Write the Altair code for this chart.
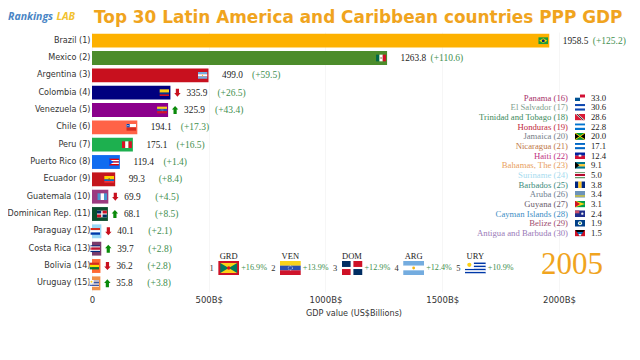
import base64
import altair as alt
import pandas as pd

SERIF = "Liberation Serif"
SANS = "DejaVu Sans"

names = ["Brazil", "Mexico", "Argentina", "Colombia", "Venezuela", "Chile", "Peru", "Puerto Rico",
         "Ecuador", "Guatemala", "Dominican Rep.", "Paraguay", "Costa Rica", "Bolivia", "Uruguay"]
values = [1958.5, 1263.8, 499.0, 335.9, 325.9, 194.1, 175.1, 119.4, 99.3, 69.9, 68.1, 40.1, 39.7, 36.2, 35.8]
deltas = [125.2, 110.6, 59.5, 26.5, 43.4, 17.3, 16.5, 1.4, 8.4, 4.5, 8.5, 2.1, 2.8, 2.8, 3.8]
arrows = ["", "", "", "down", "up", "", "", "", "", "down", "up", "down", "up", "down", "up"]
bar_colors = ["#FDB100", "#4C8C2B", "#C8101E", "#00007F", "#8B008B", "#FF6347", "#1DB04F", "#0F6CF0",
              "#C4161C", "#9B3A80", "#0A4F2C", "#9BD8F5", "#7B3B6A", "#FF6A33", "#F0914A"]
codes = ["BRA", "MEX", "ARG", "COL", "VEN", "CHL", "PER", "PRI", "ECU", "GTM", "DOM", "PRY", "CRI", "BOL", "URY"]

list_names = ["Panama", "El Salvador", "Trinidad and Tobago", "Honduras", "Jamaica", "Nicaragua", "Haiti",
              "Bahamas, The", "Suriname", "Barbados", "Aruba", "Guyana", "Cayman Islands", "Belize",
              "Antigua and Barbuda"]
list_values = [33.0, 30.6, 28.6, 22.8, 20.0, 17.1, 12.4, 9.1, 5.0, 3.8, 3.4, 3.1, 2.4, 1.9, 1.5]
list_colors = ["#A8326A", "#7F9F8F", "#3C8A5C", "#C0283C", "#778088", "#C07848", "#C0307F", "#E8A060",
               "#A8DCEF", "#3D8C7C", "#708090", "#6B5B6B", "#3F8FC5", "#A04F70", "#9A7AB8"]
list_codes = ["PAN", "SLV", "TTO", "HND", "JAM", "NIC", "HTI", "BHS", "SUR", "BRB", "ABW", "GUY", "CYM", "BLZ", "ATG"]

top_codes = ["GRD", "VEN", "DOM", "ARG", "URY"]
top_pct = ["+16.9%", "+13.9%", "+12.9%", "+12.4%", "+10.9%"]
top_rank = [1, 2, 3, 4, 5]


def h(*cols):
    n = len(cols)
    return "".join(f'<rect y="{i*20/n}" width="30" height="{20/n+.2}" fill="{c}"/>' for i, c in enumerate(cols))


def v(*cols):
    n = len(cols)
    return "".join(f'<rect x="{i*30/n}" width="{30/n+.2}" height="20" fill="{c}"/>' for i, c in enumerate(cols))


designs = {
    "BRA": h("#1A9B3C") + '<path d="M15 3L27 10L15 17L3 10Z" fill="#FFDF00"/><circle cx="15" cy="10" r="4.5" fill="#002776"/>',
    "MEX": v("#006847", "#FFF", "#CE1126") + '<circle cx="15" cy="10" r="2.5" fill="#8C6A3F"/>',
    "ARG": h("#74ACDF", "#FFF", "#74ACDF") + '<circle cx="15" cy="10" r="2" fill="#F6B40E"/>',
    "COL": '<rect width="30" height="10" fill="#FCD116"/><rect y="10" width="30" height="5" fill="#003893"/><rect y="15" width="30" height="5" fill="#CE1126"/>',
    "VEN": h("#F8D21C", "#2A4FB0", "#CF142B") + '<circle cx="15" cy="10" r="3" fill="none" stroke="#FFF" stroke-dasharray="1.5 1.5"/>',
    "CHL": '<rect width="30" height="10" fill="#FFF"/><rect y="10" width="30" height="10" fill="#D52B1E"/><rect width="10" height="10" fill="#0039A6"/><circle cx="5" cy="5" r="2" fill="#FFF"/>',
    "PER": v("#D91023", "#FFF", "#D91023"),
    "PRI": h("#ED0000", "#FFF", "#ED0000", "#FFF", "#ED0000") + '<path d="M0 0L14 10L0 20Z" fill="#0050F0"/>',
    "ECU": '<rect width="30" height="10" fill="#FFD100"/><rect y="10" width="30" height="5" fill="#0072CE"/><rect y="15" width="30" height="5" fill="#EF3340"/><circle cx="15" cy="10" r="3" fill="#7A5C2E"/>',
    "GTM": v("#4997D0", "#FFF", "#4997D0"),
    "DOM": '<rect width="30" height="20" fill="#FFF"/><rect width="13" height="8.5" fill="#002D62"/><rect x="17" width="13" height="8.5" fill="#CE1126"/><rect y="11.5" width="13" height="8.5" fill="#CE1126"/><rect x="17" y="11.5" width="13" height="8.5" fill="#002D62"/>',
    "PRY": h("#D52B1E", "#FFF", "#0038A8"),
    "CRI": h("#002B7F", "#FFF", "#CE1126", "#CE1126", "#FFF", "#002B7F"),
    "BOL": h("#D52B1E", "#F9E300", "#007934"),
    "URY": h("#FFF", "#0038A8", "#FFF", "#0038A8", "#FFF", "#0038A8", "#FFF", "#0038A8", "#FFF")
           + '<rect width="13" height="11" fill="#FFF"/><circle cx="6.5" cy="5.5" r="3" fill="#FCD116"/>',
    "PAN": '<rect width="15" height="10" fill="#FFF"/><rect x="15" width="15" height="10" fill="#D21034"/><rect y="10" width="15" height="10" fill="#005293"/><rect x="15" y="10" width="15" height="10" fill="#FFF"/>',
    "SLV": h("#0F47AF", "#FFF", "#0F47AF"),
    "TTO": '<rect width="30" height="20" fill="#DA1A35"/><path d="M0 0H8L30 20H22Z" fill="#FFF"/><path d="M3 0H6L27 20H24Z" fill="#000"/>',
    "HND": h("#0073CF", "#FFF", "#0073CF"),
    "JAM": '<rect width="30" height="20" fill="#000"/><path d="M0 0L15 10L30 0Z M0 20L15 10L30 20Z" fill="#009B3A"/><path d="M0 0L30 20M30 0L0 20" stroke="#FED100" stroke-width="3"/>',
    "NIC": h("#0067C6", "#FFF", "#0067C6"),
    "HTI": h("#00209F", "#D21034") + '<rect x="11" y="7" width="8" height="6" fill="#FFF"/>',
    "BHS": h("#00778B", "#FFC72C", "#00778B") + '<path d="M0 0L13 10L0 20Z" fill="#000"/>',
    "SUR": h("#377E3F", "#FFF", "#B40A2D", "#B40A2D", "#FFF", "#377E3F"),
    "BRB": v("#00267F", "#FFC726", "#00267F"),
    "ABW": '<rect width="30" height="20" fill="#6C93B8"/><rect y="13" width="30" height="1.6" fill="#F9D90F"/><rect y="16" width="30" height="1.6" fill="#F9D90F"/>',
    "GUY": '<rect width="30" height="20" fill="#009E49"/><path d="M0 0L30 10L0 20Z" fill="#FCD116"/><path d="M0 0L15 10L0 20Z" fill="#CE1126"/>',
    "CYM": '<rect width="30" height="20" fill="#1F2E8C"/><rect width="13" height="9" fill="#C8506A"/><circle cx="22" cy="10" r="3.5" fill="#EEE"/>',
    "BLZ": '<rect width="30" height="20" fill="#003F87"/><circle cx="15" cy="10" r="6" fill="#FFF"/><circle cx="15" cy="10" r="3" fill="#3E8E4A"/>',
    "ATG": '<rect width="30" height="20" fill="#CE1126"/><path d="M0 0H30L15 20Z" fill="#000"/><path d="M5.5 7H24.5L15 20Z" fill="#0072C6"/><path d="M10 13H20L15 20Z" fill="#FFF"/>',
    "GRD": '<rect width="30" height="20" fill="#CE1126"/><rect x="3" y="3" width="24" height="14" fill="#007A5E"/><path d="M3 3H27L15 10Z M3 17H27L15 10Z" fill="#FCD116"/><circle cx="15" cy="10" r="2.5" fill="#CE1126"/>',
}


def flag(code):
    svg = (f'<svg xmlns="http://www.w3.org/2000/svg" width="60" height="40" viewBox="0 0 30 20">'
           f'{designs[code]}</svg>')
    return "data:image/svg+xml;base64," + base64.b64encode(svg.encode()).decode()


main = pd.DataFrame({
    "label": [f"{n} ({i + 1})" for i, n in enumerate(names)],
    "value": values,
    "value_text": [f"{x:.1f}" for x in values],
    "delta_text": [f"(+{d})" for d in deltas],
    "arrow": arrows,
    "color": bar_colors,
    "flag": [flag(c) for c in codes],
})
order = main["label"].tolist()

small = pd.DataFrame({
    "rank": list(range(16, 31)),
    "label": [f"{n} ({i + 16})" for i, n in enumerate(list_names)],
    "value_text": [f"{x:.1f}" for x in list_values],
    "color": list_colors,
    "flag": [flag(c) for c in list_codes],
})

top = pd.DataFrame({
    "pos": top_rank,
    "rank_text": [str(r) for r in top_rank],
    "code": top_codes,
    "pct": top_pct,
    "flag": [flag(c) for c in top_codes],
})

X = alt.X("value:Q", scale=alt.Scale(domain=[0, 2240], nice=False),
          axis=alt.Axis(values=[0, 500, 1000, 1500, 2000], labelExpr="datum.value == 0 ? '0' : datum.value + 'B$'",
                        title="GDP value (US$Billions)", titleFont=SANS, titleFontSize=8.1, titleFontWeight="normal",
                        titleColor="#333", titlePadding=6, labelFont=SANS, labelFontSize=8.5, labelColor="#333",
                        labelPadding=3, labelFlush=False, grid=True, gridColor="#F6F6F6", domain=False, ticks=False,
                        tickSize=0))
Y = alt.Y("label:N", scale=alt.Scale(domain=order, paddingInner=0.2, paddingOuter=0.1),
          axis=alt.Axis(title=None, labelFont=SANS, labelFontSize=8.1, labelColor="#333", labelPadding=2,
                        domain=False, ticks=False, grid=False))

base = alt.Chart(main).encode(x=X, y=Y)
bars = base.mark_bar(cornerRadius=0).encode(color=alt.Color("color:N", scale=None))
bar_flags = base.mark_image(width=10, height=8, xOffset=-6).encode(url="flag:N")
no_arrow = base.transform_filter("datum.arrow == ''")
with_arrow = base.transform_filter("datum.arrow != ''")
val1 = no_arrow.mark_text(align="left", baseline="middle", dx=13.5, font=SERIF, fontSize=9.3, color="#222").encode(text="value_text:N")
del1 = no_arrow.mark_text(align="left", baseline="middle", dx=43.5, font=SERIF, fontSize=9.5, color="#3F8F4F").encode(text="delta_text:N")
val2 = with_arrow.mark_text(align="left", baseline="middle", dx=16, font=SERIF, fontSize=9.3, color="#222").encode(text="value_text:N")
del2 = with_arrow.mark_text(align="left", baseline="middle", dx=47, font=SERIF, fontSize=9.5, color="#3F8F4F").encode(text="delta_text:N")
up = "M0 -1L0.8 -0.1L0.4 -0.1L0.4 1L-0.4 1L-0.4 -0.1L-0.8 -0.1Z"
down = "M0 1L0.8 0.1L0.4 0.1L0.4 -1L-0.4 -1L-0.4 0.1L-0.8 0.1Z"
arrow_up = base.transform_filter("datum.arrow == 'up'").mark_point(
    shape=up, filled=True, opacity=1, size=64, color="#0A8A0A", xOffset=7).encode()
arrow_down = base.transform_filter("datum.arrow == 'down'").mark_point(
    shape=down, filled=True, opacity=1, size=64, color="#C8101E", xOffset=7).encode()
main_layer = alt.layer(bars, bar_flags, val1, del1, val2, del2, arrow_up, arrow_down)

Y2 = alt.Y("rank:Q", scale=alt.Scale(domain=[16, 30], range=[65.7, 201], nice=False, zero=False), axis=None)
sb = alt.Chart(small).encode(y=Y2)
s_names = sb.mark_text(align="right", baseline="middle", font=SERIF, fontSize=8.7).encode(
    x=alt.value(476), text="label:N", color=alt.Color("color:N", scale=None))
s_flags = sb.mark_image(width=10, height=7).encode(x=alt.value(488), url="flag:N")
s_vals = sb.mark_text(align="left", baseline="middle", font=SERIF, fontSize=8.7, color="#222").encode(
    x=alt.value(499), text="value_text:N")
small_layer = alt.layer(s_names, s_flags, s_vals)

X3 = alt.X("pos:Q", scale=alt.Scale(domain=[1, 5], range=[136.7, 383.3], nice=False, zero=False), axis=None)
tb = alt.Chart(top).encode(x=X3)
t_flags = tb.mark_image(width=21, height=14).encode(y=alt.value(236), url="flag:N")
t_rank = tb.mark_text(align="center", baseline="middle", dx=-17, font=SERIF, fontSize=8.5, color="#333").encode(
    y=alt.value(236), text="rank_text:N")
t_code = tb.mark_text(align="center", baseline="middle", font=SERIF, fontSize=8.5, color="#222").encode(
    y=alt.value(224), text="code:N")
t_pct = tb.mark_text(align="left", baseline="middle", dx=12.5, font=SERIF, fontSize=8.2, color="#3F8F4F").encode(
    y=alt.value(236), text="pct:N")
top_layer = alt.layer(t_flags, t_rank, t_code, t_pct)

notes = pd.DataFrame({"t": ["x"]})
def note(text, x, y, **kw):
    return alt.Chart(notes).mark_text(text=text, **kw).encode(x=alt.value(x), y=alt.value(y))

title = note("Top 30 Latin America and Caribbean countries PPP GDP", 2, -14, align="left", baseline="middle",
             font=SANS, fontWeight="bold", fontSize=16.9, color="#F0A41E")
logo1 = note("Rankings", -84, -15.5, align="left", baseline="middle", font="Open Sans", fontWeight="bold",
             fontStyle="italic", fontSize=10.5, color="#4A86C5")
logo2 = note("LAB", -35.5, -15.5, align="left", baseline="middle", font="Open Sans", fontWeight="bold",
             fontStyle="italic", fontSize=10.5, color="#F2C230")
year = note("2005", 480, 233, align="center", baseline="middle", font=SERIF, fontSize=31, color="#F0A41E")

chart = (
    alt.layer(main_layer, small_layer, top_layer, title, logo1, logo2, year)
    .resolve_scale(x="independent", y="independent")
    .properties(width=523, height=260, background="white",
                padding={"left": 84, "top": 24, "right": 16, "bottom": 50},
                autosize=alt.AutoSizeParams(type="none"))
    .configure_view(stroke=None)
)

chart.save("out.html", embed_options={"renderer": "svg", "actions": False})
